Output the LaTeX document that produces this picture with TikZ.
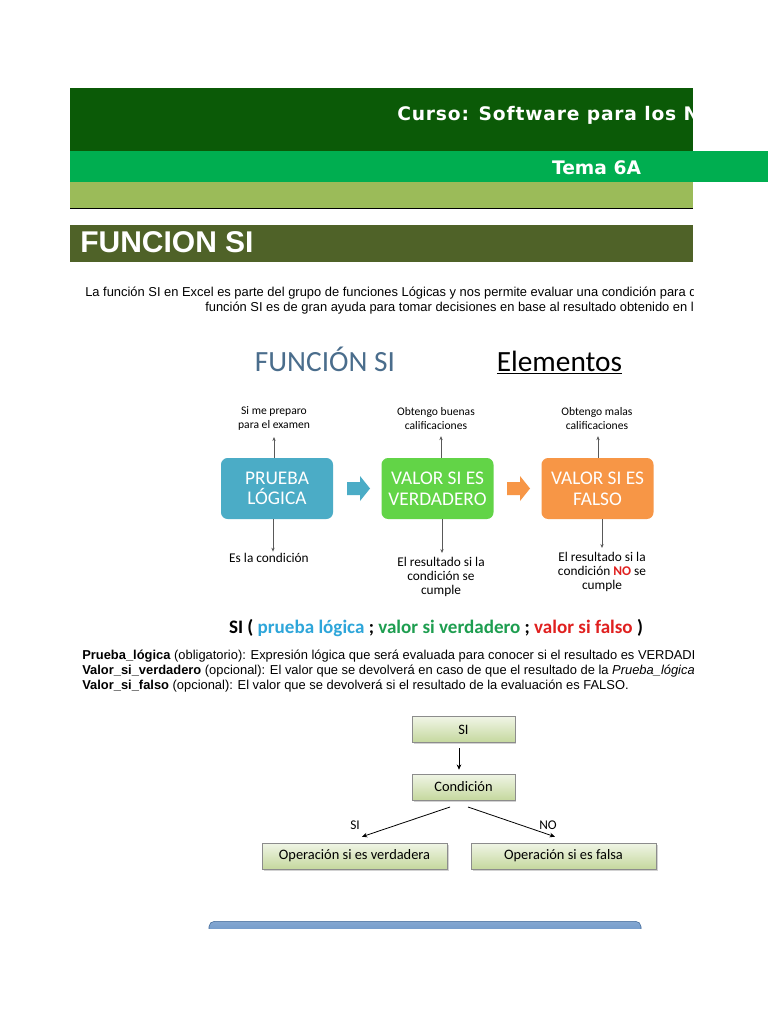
\documentclass[tikz,border=0pt]{standalone}
\usepackage{fontspec}
\setmainfont{Liberation Sans}
\newfontfamily\calfont{Carlito}
\newfontfamily\djfont{DejaVu Sans}
\usetikzlibrary{shadows,calc,arrows.meta}
\definecolor{dkgreen}{HTML}{0B5A07}
\definecolor{brgreen}{HTML}{00AE50}
\definecolor{olive}{HTML}{9BBB59}
\definecolor{fgreen}{HTML}{4F6228}
\definecolor{boxblue}{HTML}{4BACC6}
\definecolor{boxgreen}{HTML}{62D447}
\definecolor{boxorange}{HTML}{F79646}
\definecolor{titleblue}{HTML}{4A6D8C}
\definecolor{fblue}{HTML}{2EA6DA}
\definecolor{fgreen2}{HTML}{1E9E50}
\definecolor{fred}{HTML}{E0201F}
\definecolor{lightg1}{HTML}{F0F5E6}
\definecolor{lightg2}{HTML}{C5D89E}
\definecolor{barblue}{HTML}{4F81BD}
\tikzset{
  elbox/.style={rounded corners=5pt, minimum width=84pt, minimum height=45.75pt, text=white, align=center, font=\calfont\fontsize{14.5}{15.5}\selectfont, inner sep=0pt},
  small/.style={align=center, font=\calfont\fontsize{8.7}{10}\selectfont, inner sep=0pt},
  smallb/.style={align=center, font=\calfont\fontsize{10}{10.6}\selectfont, inner sep=0pt},
  thinarrow/.style={draw=black!65, line width=0.5pt, -{Stealth[length=3pt,width=2.5pt]}},
  flowbox/.style={draw=black!45, top color=lightg1, bottom color=lightg2, minimum width=77pt, minimum height=19.5pt, font=\calfont\fontsize{10.8}{12}\selectfont, inner sep=0pt, drop shadow={shadow xshift=1.2pt, shadow yshift=-1.2pt, fill=black!35, opacity=0.5}},
  flowlabel/.style={font=\calfont\fontsize{10}{11}\selectfont, inner sep=0pt},
  flowarrow/.style={draw=black, line width=0.6pt, -{Stealth[length=4pt,width=3.5pt]}},
  para/.style={anchor=base west, inner sep=0pt, font=\fontsize{9.68}{11}\selectfont},
}
\begin{document}
\begin{tikzpicture}[x=0.75pt,y=-0.75pt]
\useasboundingbox (0,0) rectangle (768,1024);
\fill[white] (0,0) rectangle (768,1024);
% header bands
\fill[dkgreen] (70,88) rectangle (693,151);
\fill[brgreen] (70,151) rectangle (768,182);
\fill[olive] (70,182) rectangle (693,208);
\draw[black, line width=1.2pt] (70,208.5) -- (693,208.5);
\begin{scope}
\clip (70,88) rectangle (693,151);
\node[anchor=base west, inner sep=0pt, text=white, font=\djfont\bfseries\fontsize{14}{15}\selectfont\addfontfeature{LetterSpace=4.4}] (curso) at (397,120) {Curso: Software para los N};
\end{scope}
\node[anchor=base, inner sep=0pt, text=white, font=\djfont\bfseries\fontsize{14}{15}\selectfont] (tema) at (596.5,174) {Tema 6A};
% FUNCION SI band
\fill[fgreen] (70,225) rectangle (693,262);
\node[anchor=base west, inner sep=0pt, text=white, font=\bfseries\fontsize{22.5}{23}\selectfont] (fsi) at (80,252.5) {FUNCION SI};
% paragraph
\begin{scope}
\clip (70,270) rectangle (693,700);
\node[para] (p1) at (85,296) {La función SI en Excel es parte del grupo de funciones Lógicas y nos permite evaluar una condición para d};
\node[para] (p2) at (205,311) {función SI es de gran ayuda para tomar decisiones en base al resultado obtenido en la};
\node[para] (d1) at (82,659) {\textbf{Prueba\_lógica} (obligatorio): Expresión lógica que será evaluada para conocer si el resultado es VERDADERO};
\node[para] (d2) at (82,674) {\textbf{Valor\_si\_verdadero} (opcional): El valor que se devolverá en caso de que el resultado de la \textit{Prueba\_lógica} sea};
\node[para] (d3) at (82,689) {\textbf{Valor\_si\_falso} (opcional): El valor que se devolverá si el resultado de la evaluación es FALSO.};
\end{scope}
% Elementos image
\node[anchor=base, inner sep=0pt, text=titleblue, font=\calfont\fontsize{22}{23}\selectfont] (ftitle) at (325,371) {FUNCIÓN SI};
\node[anchor=base, inner sep=0pt, font=\calfont\fontsize{22}{23}\selectfont] (elem) at (559.5,371) {\underline{Elementos}};
\node[elbox, fill=boxblue] (b1) at (277,488.5) {PRUEBA\\LÓGICA};
\node[elbox, fill=boxgreen] (b2) at (437.5,488.5) {VALOR SI ES\\VERDADERO};
\node[elbox, fill=boxorange] (b3) at (597.5,488.5) {VALOR SI ES\\FALSO};
\node[small] (t1) at (274,418.5) {Si me preparo\\para el examen};
\node[small] (t2) at (436,418.5) {Obtengo buenas\\calificaciones};
\node[small] (t3) at (597,418.5) {Obtengo malas\\calificaciones};
\draw[thinarrow] (b1.north -| t1) -- ([yshift=-5pt]t1.south);
\draw[thinarrow] (b2.north -| 441,0) -- ([yshift=-5pt]t2.south -| 441,0);
\draw[thinarrow] (b3.north -| 598,0) -- ([yshift=-5pt]t3.south -| 598,0);
\node[smallb, anchor=north] (u1) at (269,553) {Es la condición};
\node[smallb, anchor=north] (u2) at (441,557) {El resultado si la\\condición se\\cumple};
\node[smallb, anchor=north] (u3) at (602,552) {El resultado si la\\condición \textcolor{fred}{\textbf{NO}} se\\cumple};
\draw[thinarrow] (b1.south -| 273,0) -- ([yshift=1pt]u1.north -| 273,0);
\draw[thinarrow] (b2.south -| 442,0) -- ([yshift=3pt]u2.north -| 442,0);
\draw[thinarrow] (b3.south -| 602,0) -- ([yshift=3pt]u3.north -| 602,0);
% block arrows
\fill[boxblue] (347,482) -- (360,482) -- (360,476) -- (370,488.5) -- (360,501) -- (360,495) -- (347,495) -- cycle;
\fill[boxorange] (507,482) -- (520,482) -- (520,476) -- (530,488.5) -- (520,501) -- (520,495) -- (507,495) -- cycle;
% formula
\node[anchor=base, inner sep=0pt, font=\calfont\bfseries\fontsize{14.3}{15}\selectfont] (formula) at (436,633) {SI ( \textcolor{fblue}{prueba lógica} ; \textcolor{fgreen2}{valor si verdadero} ; \textcolor{fred}{valor si falso} )};
% flowchart
\node[flowbox] (si) at (463.5,729.5) {SI};
\node[flowbox] (cond) at (463.5,787) {Condición};
\node[flowbox, minimum width=138.75pt] (opv) at (354.5,856) {Operación si es verdadera};
\node[flowbox, minimum width=138.75pt] (opf) at (563.5,856) {Operación si es falsa};
\draw[flowarrow, shorten <=4pt, shorten >=3pt] (si.south -| 459,0) -- (cond.north -| 459,0);
\coordinate (cl) at (450,807);
\coordinate (cr) at (468,807);
\draw[flowarrow] (cl) -- ([xshift=5.6pt,yshift=4.5pt]opv.north);
\draw[flowarrow] (cr) -- ([xshift=-6.4pt,yshift=4.5pt]opf.north);
\node[flowlabel] (lsi) at (355,825) {SI};
\node[flowlabel] (lno) at (548,825) {NO};
% bottom bar
\begin{scope}
\clip (200,900) rectangle (660,928);
\node[draw=barblue!80!black, top color=barblue!70!white, bottom color=barblue, rounded corners=4pt, minimum width=324pt, minimum height=22pt, inner sep=0pt] (bar) at (425,936) {};
\end{scope}
\end{tikzpicture}
\end{document}
